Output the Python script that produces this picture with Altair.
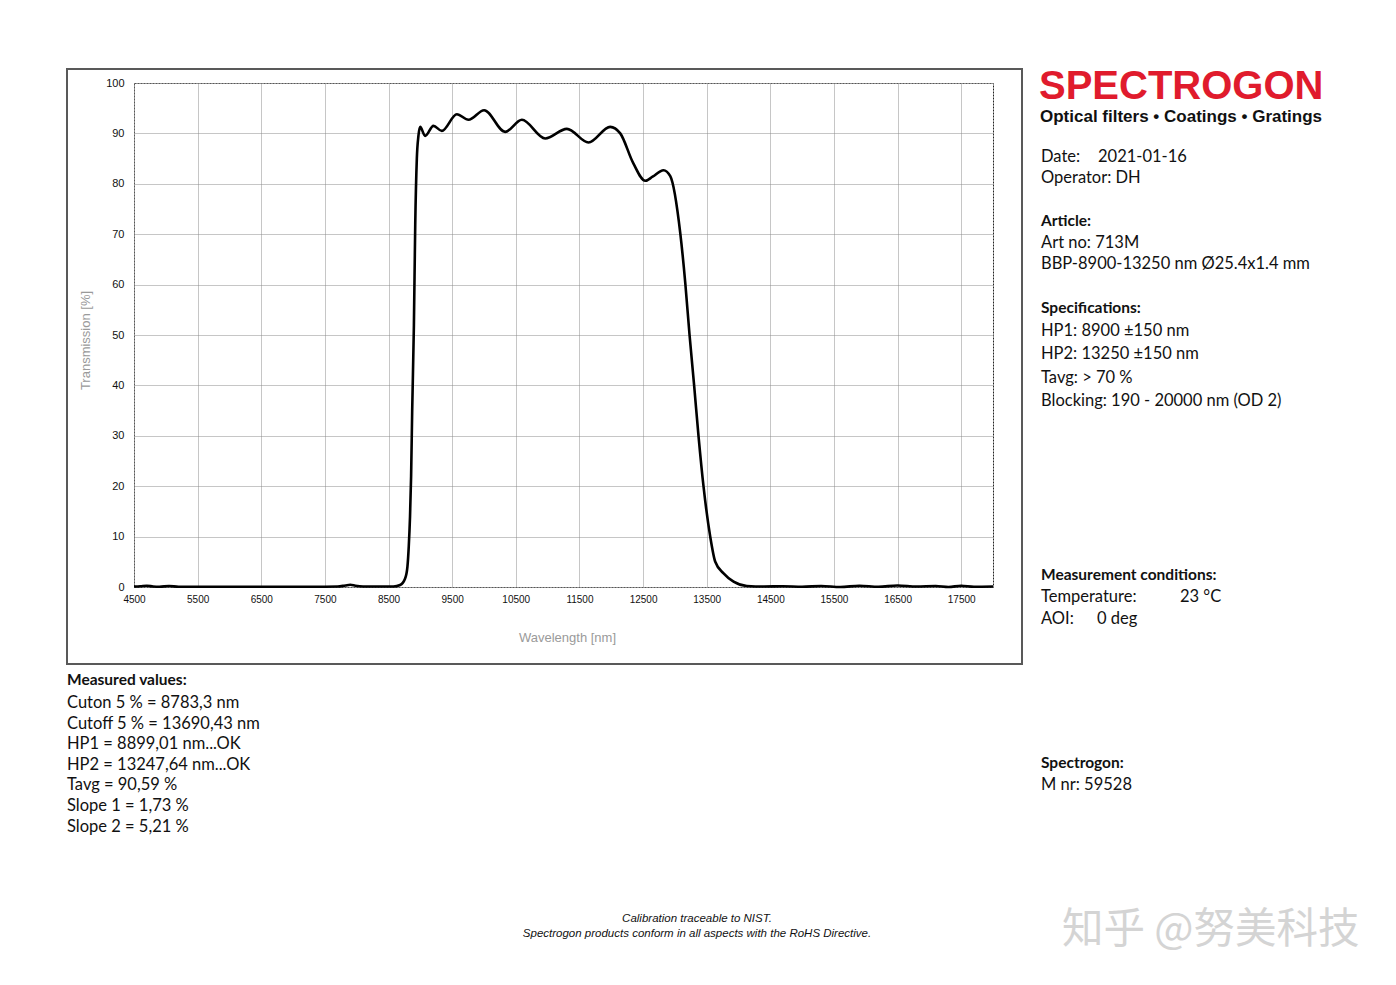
import altair as alt
import pandas as pd

# ---- data -----------------------------------------------------------------
wavelength = [4500, 4600, 4700, 4800, 4900, 5050, 5200, 5400, 5800, 6300, 6800, 7300, 7700,
              7820, 7900, 7980, 8100, 8400, 8577, 8682, 8761, 8797, 8818, 8838, 8855,
              8872, 8899, 8920, 8945, 8970, 8997, 9075, 9206, 9338, 9574, 9757, 10003,
              10333, 10596, 10962, 11303, 11643, 11984, 12142, 12346, 12535, 12650, 12822,
              12928, 13085, 13164, 13231, 13305, 13373, 13451, 13556, 13635, 13766, 13923,
              14132, 14400, 14700, 15000, 15300, 15600, 15900, 16200, 16500, 16800, 17100,
              17300, 17500, 17700, 18000]
transmission = [0.1, 0.15, 0.25, 0.1, 0.05, 0.2, 0.05, 0.05, 0.05, 0.05, 0.05, 0.05, 0.1,
                0.3, 0.45, 0.25, 0.1, 0.1, 0.1, 0.4, 1.7, 4.0, 8.0, 14.0, 22.0,
                35.0, 52.0, 72.0, 85.0, 89.5, 91.3, 89.5, 91.5, 90.5, 93.8, 92.7, 94.6,
                90.3, 92.7, 89.0, 90.9, 88.2, 91.3, 90.0, 84.1, 80.6, 81.4, 82.7,
                81.5, 70.2, 60.3, 50.0, 39.7, 29.8, 19.9, 10.0, 5.0, 2.7, 1.05,
                0.2, 0.1, 0.15, 0.05, 0.2, 0.0, 0.25, 0.05, 0.3, 0.1, 0.2,
                0.0, 0.25, 0.05, 0.1]
x_ticks = [4500, 5500, 6500, 7500, 8500, 9500, 10500, 11500, 12500, 13500, 14500,
           15500, 16500, 17500]
y_ticks = [0, 10, 20, 30, 40, 50, 60, 70, 80, 90, 100]

brand = "SPECTROGON"
tagline = "Optical filters \u2022 Coatings \u2022 Gratings"
date_label, date_value = "Date:", "2021-01-16"
operator = "Operator: DH"
article_head = "Article:"
article_lines = ["Art no: 713M", "BBP-8900-13250 nm \u00d825.4x1.4 mm"]
spec_head = "Specifications:"
spec_lines = ["HP1: 8900 \u00b1150 nm", "HP2: 13250 \u00b1150 nm", "Tavg: > 70 %",
              "Blocking: 190 - 20000 nm (OD 2)"]
cond_head = "Measurement conditions:"
temp_label, temp_value = "Temperature:", "23 \u00b0C"
aoi_label, aoi_value = "AOI:", "0 deg"
sg_head = "Spectrogon:"
sg_line = "M nr: 59528"
meas_head = "Measured values:"
meas_lines = ["Cuton 5 % = 8783,3 nm", "Cutoff 5 % = 13690,43 nm", "HP1 = 8899,01 nm...OK",
              "HP2 = 13247,64 nm...OK", "Tavg = 90,59 %", "Slope 1 = 1,73 %", "Slope 2 = 5,21 %"]
footer_lines = ["Calibration traceable to NIST.",
                "Spectrogon products conform in all aspects with the RoHS Directive."]
watermark = "\u77e5\u4e4e @\u52aa\u7f8e\u79d1\u6280"

# ---- layout ----------------------------------------------------------------
PX0, PY0 = 134, 83          # plot origin on the page
W, H = 859, 504             # plot area
PAGE_W, PAGE_H = 1396, 985


def ax(x):
    return x - PX0


def ay(y):
    return y - PY0


df = pd.DataFrame({"wl": wavelength, "t": transmission})

x_scale = alt.Scale(domain=[4500, 18000], nice=False, zero=False)
y_scale = alt.Scale(domain=[0, 100], nice=False)

curve = alt.Chart(df).mark_line(
    color="black", strokeWidth=2.6, interpolate="monotone"
).encode(
    x=alt.X("wl:Q", scale=x_scale,
            axis=alt.Axis(values=x_ticks, title="Wavelength [nm]", format="d",
                          grid=True, gridColor="#8c8c8c", gridDash=[1, 1], gridWidth=1,
                          ticks=False, domain=False, labelFontSize=10, labelPadding=7,
                          labelFont="Liberation Sans", labelColor="#111",
                          titleFont="Liberation Sans", titleFontSize=13, titleColor="#9a9a9a",
                          titleFontWeight="normal", titleX=ax(567), titleY=50,
                          titleBaseline="middle", labelFlush=False)),
    y=alt.Y("t:Q", scale=y_scale,
            axis=alt.Axis(values=y_ticks, title="Transmission [%]", format="d",
                          grid=True, gridColor="#8c8c8c", gridDash=[1, 1], gridWidth=1,
                          ticks=False, domain=False, labelFontSize=11, labelPadding=10,
                          labelFont="Liberation Sans", labelColor="#111",
                          titleFont="Liberation Sans", titleFontSize=13, titleColor="#9a9a9a",
                          titleFontWeight="normal", titleX=ax(85), titleY=ay(340),
                          titleBaseline="middle", titleAngle=270, labelFlush=False)),
)

frame = alt.Chart(df).mark_rect(
    fill=None, stroke="#5a5a5a", strokeWidth=1.5
).encode(
    x=alt.value(ax(67)), x2=alt.value(ax(1022)),
    y=alt.value(ay(69)), y2=alt.value(ay(664)),
)


def txt(text, x, y, size=16.5, weight="normal", color="#111", font="Lato",
        align="left", style="normal"):
    return alt.Chart(pd.DataFrame({"s": [text]})).mark_text(
        align=align, baseline="alphabetic", fontSize=size, fontWeight=weight,
        font=font, color=color, fontStyle=style
    ).encode(text="s:N", x=alt.value(ax(x)), y=alt.value(ay(y)))


layers = [frame, curve]

RX = 1041
layers.append(txt(brand, 1039, 99, size=40, weight="bold", color="#e01b2d",
                  font="Liberation Sans"))
layers.append(txt(tagline, 1040, 122, size=17, weight="bold", color="#111",
                  font="Liberation Sans"))
layers.append(txt(date_label, RX, 162))
layers.append(txt(date_value, 1098, 162))
layers.append(txt(operator, RX, 183))
layers.append(txt(article_head, RX, 226, size=15.5, weight="bold"))
for i, s in enumerate(article_lines):
    layers.append(txt(s, RX, 248 + 21 * i))
layers.append(txt(spec_head, RX, 313, size=15.5, weight="bold"))
for i, s in enumerate(spec_lines):
    layers.append(txt(s, RX, 336 + 23.3 * i))
layers.append(txt(cond_head, RX, 580, size=15.5, weight="bold"))
layers.append(txt(temp_label, RX, 602))
layers.append(txt(temp_value, 1180, 602))
layers.append(txt(aoi_label, RX, 624))
layers.append(txt(aoi_value, 1097, 624))
layers.append(txt(sg_head, RX, 768, size=15.5, weight="bold"))
layers.append(txt(sg_line, RX, 790))

layers.append(txt(meas_head, 67, 685, size=15.5, weight="bold"))
for i, s in enumerate(meas_lines):
    layers.append(txt(s, 67, 708 + 20.6 * i))

for i, s in enumerate(footer_lines):
    layers.append(txt(s, 697, 922 + 15 * i, size=11.5, font="Liberation Sans",
                      align="center", style="italic"))

layers.append(txt(watermark, 1062, 943, size=41.5, color="#d4d4d4",
                  font="Noto Sans CJK SC"))

chart = alt.layer(*layers).properties(
    width=W, height=H,
    autosize=alt.AutoSizeParams(type="none"),
    padding={"left": PX0, "top": PY0, "right": PAGE_W - PX0 - W, "bottom": PAGE_H - PY0 - H},
    background="white",
).configure_view(
    stroke="#222", strokeWidth=1, strokeDash=[2, 1]
)

chart.save("out.html", embed_options={"renderer": "svg", "actions": False})
